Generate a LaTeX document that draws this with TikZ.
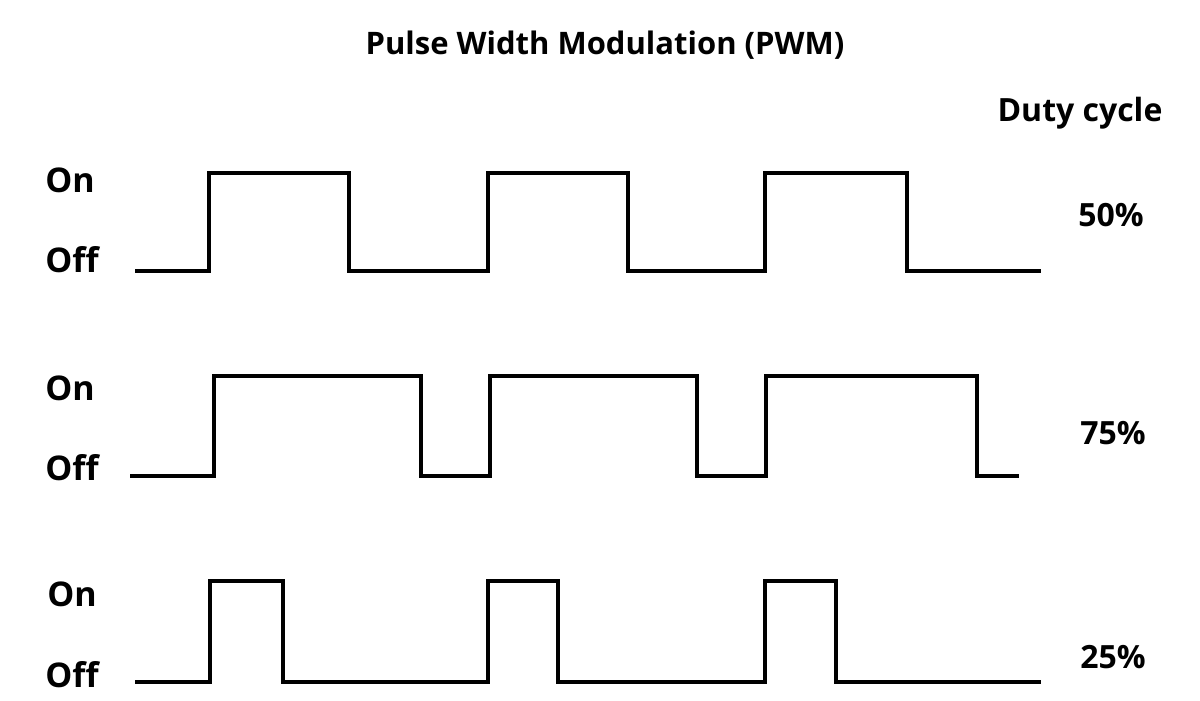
\documentclass[tikz,border=0pt]{standalone}
\usepackage{fontspec}
\setmainfont{Open Sans}
\begin{document}
\begin{tikzpicture}[x=1pt,y=-1pt,line join=miter,
  wave/.style={line width=4pt},
  lbl/.style={font=\fontsize{34}{40}\selectfont\bfseries},
  pct/.style={font=\fontsize{32}{38}\selectfont\bfseries}]
  \useasboundingbox (0,0) rectangle (1200,701);
  % Title
  \node (title) [font=\fontsize{31}{36}\selectfont\bfseries] at (605,45) {Pulse Width Modulation (PWM)};
  \node (duty) [pct] at (1080,113) {Duty cycle};
  % Row: 50%
  \node (on1) [lbl] at (70,180) {On};
  \node (off1) [lbl] at (72,260) {Off};
  \draw [wave] (135,271) -- (209,271) -- (209,173) -- (349,173) -- (349,271) -- (488,271) -- (488,173) -- (628,173) -- (628,271) -- (765,271) -- (765,173) -- (907,173) -- (907,271) -- (1041,271);
  \node (p50) [pct] at (1111,215) {50\%};
  % Row: 75%
  \node (on2) [lbl] at (70,388) {On};
  \node (off2) [lbl] at (72,468) {Off};
  \draw [wave] (130,476) -- (214,476) -- (214,376) -- (421,376) -- (421,476) -- (490,476) -- (490,376) -- (697,376) -- (697,476) -- (766,476) -- (766,376) -- (977,376) -- (977,476) -- (1019,476);
  \node (p75) [pct] at (1113,433) {75\%};
  % Row: 25%
  \node (on3) [lbl] at (72,594) {On};
  \node (off3) [lbl] at (72,675) {Off};
  \draw [wave] (135,682) -- (210,682) -- (210,581) -- (283,581) -- (283,682) -- (488,682) -- (488,581) -- (558,581) -- (558,682) -- (765,682) -- (765,581) -- (836,581) -- (836,682) -- (1041,682);
  \node (p25) [pct] at (1113,657) {25\%};
\end{tikzpicture}
\end{document}
